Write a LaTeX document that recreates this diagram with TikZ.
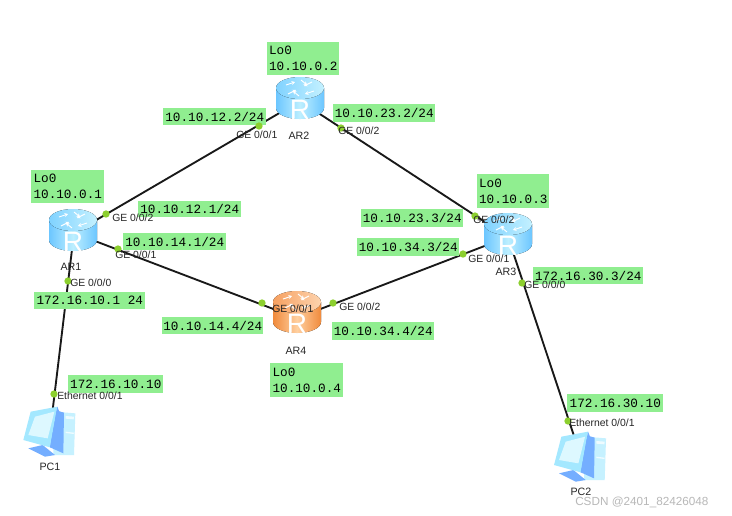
\documentclass[tikz,border=0pt]{standalone}
\usepackage{fontspec}
\setmainfont{Liberation Sans}
\newfontfamily\boxfont{Liberation Mono}
\usetikzlibrary{arrows.meta}
\definecolor{boxgreen}{HTML}{90EE90}
\definecolor{dotgreen}{HTML}{8CCF2E}
\definecolor{bluedge}{HTML}{6CC6FF}
\definecolor{bluemid}{HTML}{BDEFFF}
\definecolor{bluetopa}{HTML}{80D2FF}
\definecolor{bluetopb}{HTML}{C4F1FF}
\definecolor{oredge}{HTML}{F08A3C}
\definecolor{ormid}{HTML}{FFD0A0}
\definecolor{ortopa}{HTML}{F6A060}
\definecolor{ortopb}{HTML}{FDD3AE}
\definecolor{pcside}{HTML}{74AEFF}
\definecolor{pcbody}{HTML}{C6F1FF}
\definecolor{pcframe}{HTML}{A4E8FF}
\definecolor{pcscreen}{HTML}{DDF8FF}
\tikzset{
  ipbox/.style={fill=boxgreen,anchor=north west,inner sep=0pt,align=left,font=\boxfont\fontsize{9.5}{12}\selectfont,text=black},
  port/.style={font=\fontsize{7.8}{9}\selectfont,anchor=west,inner sep=0pt,text=black!85},
  devname/.style={font=\fontsize{8}{10}\selectfont,inner sep=0pt,text=black!85},
  portdot/.style={circle,fill=dotgreen,inner sep=0pt,minimum size=5.5pt},
  link/.style={line width=1.4pt,black!90},
  anchorpt/.style={inner sep=0pt,minimum size=0pt},
  rtr/.style={white,line width=.7pt,-{Stealth[length=2.6pt,width=3pt]}}
}
% name, x, y, width, height, text
\newcommand\ipb[6]{\node[ipbox,minimum width=#4*0.75pt,minimum height=#5*0.75pt] (#1) at (#2,#3) {#6};}
% name, top-centre x, y, edge colour, light colour, top colour a, top colour b
\newcommand\routericon[7]{%
\begin{scope}[shift={(#2,#3)}]
  \fill[left color=#4,right color=#4,middle color=#5,draw=none]
    (-24,11) -- (-24,31) arc[start angle=180,end angle=0,x radius=24,y radius=11] -- (24,11) -- cycle;
  \fill[left color=#6,right color=#7,draw=none] (0,11) ellipse[x radius=24,y radius=11];
  \foreach \a/\b/\c/\d in {-14/8/-5/5, 14/14/5/17, 12/5/4/9, -12/17/-4/13, 1/3/7/8, -1/19/-7/14}
    \draw[rtr] (\a,\b) -- (\c,\d);
  \node[inner sep=0pt,text=white,font=\fontsize{21}{21}\selectfont] (#1R) at (0,33) {R};
\end{scope}}
% x, y: coordinates are those of the 3x crop
\newcommand\pcicon[2]{%
\begin{scope}[shift={(#1,#2)},x=0.25pt,y=-0.25pt]
  \fill[pcbody] (163,155) -- (226,160) -- (222,285) -- (160,285) -- cycle;
  \fill[pcside] (165,150) -- (192,158) -- (190,280) -- (150,262) -- cycle;
  \fill[white!70!pcbody] (197,168) -- (222,170) -- (221,178) -- (197,176) -- cycle;
  \fill[white!70!pcbody] (197,215) -- (222,218) -- (221,222) -- (197,219) -- cycle;
  \fill[pcside] (85,265) -- (128,255) -- (165,285) -- (135,290) -- cycle;
  \fill[pcframe] (92,155) -- (172,140) -- (150,262) -- (70,240) -- cycle;
  \fill[pcscreen] (105,170) -- (163,155) -- (143,235) -- (85,225) -- cycle;
  \fill[pcside] (172,140) -- (178,155) -- (155,262) -- (150,262) -- cycle;
\end{scope}}
\begin{document}
\begin{tikzpicture}[x=0.75pt,y=-0.75pt]
\useasboundingbox[fill=white] (0,0) rectangle (732,515);
% device centres
\node[anchorpt] (AR1) at (74,233) {};
\node[anchorpt] (AR2) at (300,101) {};
\node[anchorpt] (AR3) at (508,237) {};
\node[anchorpt] (AR4) at (297,318) {};
\node[anchorpt] (PC1) at (50,432) {};
\node[anchorpt] (PC2) at (581,457) {};
% links
\draw[link] (AR1) -- (AR2);
\draw[link] (AR2) -- (AR3);
\draw[link] (AR1) -- (AR4);
\draw[link] (AR4) -- (AR3);
\draw[link] (AR1) -- (PC1);
\draw[link] (AR3) -- (PC2);
% icons
\routericon{iconA}{73}{209}{bluedge}{bluemid}{bluetopa}{bluetopb}
\routericon{iconB}{300}{77}{bluedge}{bluemid}{bluetopa}{bluetopb}
\routericon{iconC}{508}{213}{bluedge}{bluemid}{bluetopa}{bluetopb}
\routericon{iconD}{297}{291}{oredge}{ormid}{ortopa}{ortopb}
\pcicon{0}{360}
\pcicon{530.7}{385}
% green boxes
\ipb{la}{31}{170}{73}{33}{Lo0\\10.10.0.1}
\ipb{lb}{267}{42}{72}{33}{Lo0\\10.10.0.2}
\ipb{lc}{477}{174}{72}{34}{Lo0\\10.10.0.3}
\ipb{ld}{270}{363}{73}{34}{Lo0\\10.10.0.4}
\ipb{ia}{163}{108}{103}{17}{10.10.12.2/24}
\ipb{ib}{333}{104}{102}{18}{10.10.23.2/24}
\ipb{ic}{138}{201}{103}{16}{10.10.12.1/24}
\ipb{id}{123}{233}{103}{17}{10.10.14.1/24}
\ipb{ie}{34}{292}{111}{17}{172.16.10.1 24}
\ipb{if}{162}{317}{101}{17}{10.10.14.4/24}
\ipb{ig}{332}{322}{102}{18}{10.10.34.4/24}
\ipb{ih}{361}{209}{102}{18}{10.10.23.3/24}
\ipb{ii}{357}{238}{102}{18}{10.10.34.3/24}
\ipb{ij}{533}{267}{110}{17}{172.16.30.3/24}
\ipb{ik}{68}{375}{95}{18}{172.16.10.10}
\ipb{il}{567}{394}{96}{18}{172.16.30.10}
% port dots
\foreach \n/\x/\y in {a/106/214,b/118/249,c/68/281,d/259/126,e/341/128,f/475/216,g/463/254,h/522/283,i/262/303,j/333/303,k/54/394,l/568/421}
  \node[portdot] (dot\n) at (\x,\y) {};
% port labels
\node[port] (pa) at (112,218) {GE 0/0/2};
\node[port] (pb) at (115,255) {GE 0/0/1};
\node[port] (pc) at (70,283) {GE 0/0/0};
\node[port] (pd) at (236,135) {GE 0/0/1};
\node[port] (pe) at (338,131) {GE 0/0/2};
\node[port] (pf) at (473,220) {GE 0/0/2};
\node[port] (pg) at (468,259) {GE 0/0/1};
\node[port] (ph) at (524,285) {GE 0/0/0};
\node[port] (pi) at (272,309) {GE 0/0/1};
\node[port] (pj) at (339,307) {GE 0/0/2};
\node[port] (pk) at (57,396) {Ethernet 0/0/1};
\node[port] (pl) at (569,423) {Ethernet 0/0/1};
% device names
\node[devname] (na) at (71,267) {AR1};
\node[devname] (nb) at (299,136) {AR2};
\node[devname] (nc) at (506,272) {AR3};
\node[devname] (nd) at (296,351) {AR4};
\node[devname] (ne) at (50,467) {PC1};
\node[devname] (nf) at (581,492) {PC2};
% watermark
\node[inner sep=0pt,anchor=west,text=black!28,font=\fontsize{8.8}{10}\selectfont] (wm) at (575,502) {CSDN @2401\_82426048};
\end{tikzpicture}
\end{document}
